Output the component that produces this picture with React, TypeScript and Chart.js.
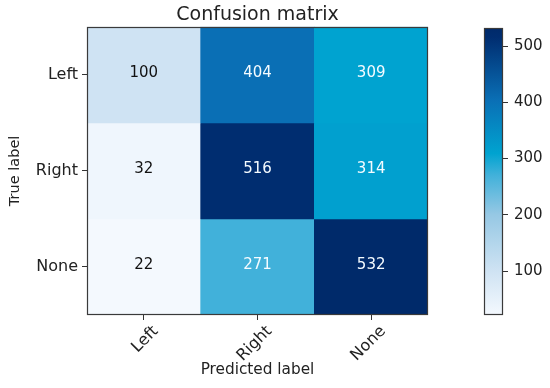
import React, { useEffect, useRef } from "react";
import { Chart, registerables } from "chart.js";

Chart.register(...registerables);

const predictedLabels = ["Left", "Right", "None"];
const trueLabels = ["Left", "Right", "None"];
const rowLeft = [100, 404, 309];
const rowRight = [32, 516, 314];
const rowNone = [22, 271, 532];
const matrixRows = [rowLeft, rowRight, rowNone];
const colorbarTicks = [100, 200, 300, 400, 500];

const FONT = "'DejaVu Sans', sans-serif";
const TEXT = "#222";

const allValues = matrixRows.flat();
const vMin = Math.min(...allValues);
const vMax = Math.max(...allValues);

// colormap (approximates the reference's Blues palette)
const cmapStops: [number, number[]][] = [
  [0, [244, 249, 254]],
  [0.153, [207, 227, 243]],
  [0.35, [150, 200, 228]],
  [0.488, [65, 177, 218]],
  [0.563, [0, 163, 208]],
  [0.749, [10, 111, 181]],
  [0.968, [0, 45, 112]],
  [1, [0, 42, 106]],
];

function cmapT(t: number): string {
  t = Math.max(0, Math.min(1, t));
  for (let i = 1; i < cmapStops.length; i++) {
    const [t1, c1] = cmapStops[i];
    const [t0, c0] = cmapStops[i - 1];
    if (t <= t1) {
      const f = (t - t0) / (t1 - t0 || 1);
      const c = c0.map((v, k) => Math.round(v + (c1[k] - v) * f));
      return `rgb(${c[0]},${c[1]},${c[2]})`;
    }
  }
  const c = cmapStops[cmapStops.length - 1][1];
  return `rgb(${c[0]},${c[1]},${c[2]})`;
}
const cmap = (v: number) => cmapT((v - vMin) / (vMax - vMin));

const framePlugin = {
  id: "frame",
  afterDraw(chart: any) {
    const { ctx, chartArea: a } = chart;
    ctx.save();
    ctx.strokeStyle = "#3a3a3a";
    ctx.lineWidth = 1.2;
    ctx.strokeRect(Math.round(a.left) + 0.5, Math.round(a.top) + 0.5, Math.round(a.right - a.left) - 1, Math.round(a.bottom - a.top) - 1);
    ctx.restore();
  },
};

const cellLabelPlugin = {
  id: "cellLabels",
  afterDatasetsDraw(chart: any) {
    const { ctx } = chart;
    const threshold = vMax / 2;
    ctx.save();
    ctx.font = `15px ${FONT}`;
    ctx.textAlign = "center";
    ctx.textBaseline = "middle";
    chart.data.datasets.forEach((ds: any, i: number) => {
      const meta = chart.getDatasetMeta(i);
      meta.data.forEach((el: any, j: number) => {
        const v = ds.values[j];
        const { x, y, base } = el.getProps(["x", "y", "base"], true);
        ctx.fillStyle = v > threshold ? "#f4fbff" : "#111";
        ctx.fillText(String(v), x, (y + base) / 2 - 2);
      });
    });
    ctx.restore();
  },
};

export default function App() {
  const mainRef = useRef<HTMLCanvasElement>(null);
  const barRef = useRef<HTMLCanvasElement>(null);

  useEffect(() => {
    const tickGrid = {
      display: true,
      drawOnChartArea: false,
      drawTicks: true,
      tickLength: 5,
      offset: false,
      color: "#333",
      lineWidth: 1,
    };

    const main = new Chart(mainRef.current!, {
      type: "bar",
      data: {
        labels: predictedLabels,
        datasets: matrixRows.map((row, r) => ({
          label: trueLabels[r],
          data: row.map(() => [r, r + 1]),
          values: row,
          backgroundColor: row.map((v) => cmap(v)),
          borderWidth: 0,
          barPercentage: 1,
          categoryPercentage: 1,
          grouped: false,
        })) as any,
      },
      options: {
        responsive: false,
        animation: false,
        layout: { padding: { left: 0, right: 122, top: 0, bottom: 0 } },
        plugins: {
          legend: { display: false },
          tooltip: { enabled: false },
          title: {
            display: true,
            text: "Confusion matrix",
            fullSize: false,
            color: TEXT,
            font: { family: FONT, size: 19, weight: "normal" },
            padding: { top: 4, bottom: 0 },
          },
        },
        scales: {
          x: {
            type: "category",
            offset: true,
            grid: tickGrid as any,
            border: { display: false },
            ticks: {
              color: TEXT,
              font: { family: FONT, size: 16 },
              minRotation: 45,
              maxRotation: 45,
              labelOffset: 12,
              padding: 2,
            },
            title: {
              display: true,
              text: "Predicted label",
              color: TEXT,
              font: { family: FONT, size: 15.3 },
              padding: { top: 0, bottom: 9 },
            },
            afterFit: (s: any) => {
              s.height = 73;
            },
          },
          y: {
            type: "linear",
            min: 0,
            max: trueLabels.length,
            reverse: true,
            grid: tickGrid as any,
            border: { display: false },
            afterBuildTicks: (s: any) => {
              s.ticks = trueLabels.map((_, i) => ({ value: i + 0.5 }));
            },
            ticks: {
              color: TEXT,
              font: { family: FONT, size: 16 },
              padding: 4,
              callback: (v: any) => trueLabels[Math.floor(Number(v))],
            },
            title: {
              display: true,
              text: "True label",
              color: TEXT,
              font: { family: FONT, size: 14.5 },
              padding: { top: 7, bottom: 0 },
            },
            afterFit: (s: any) => {
              s.width = 87;
            },
          },
        },
      } as any,
      plugins: [cellLabelPlugin, framePlugin],
    });

    const colorbar = new Chart(barRef.current!, {
      type: "bar",
      data: {
        labels: ["colorbar"],
        datasets: [
          {
            data: [[vMin, vMax]],
            borderWidth: 0,
            barPercentage: 1,
            categoryPercentage: 1,
            backgroundColor: (ctx: any) => {
              const area = ctx.chart.chartArea;
              if (!area) return cmap(vMin);
              const g = ctx.chart.ctx.createLinearGradient(0, area.bottom, 0, area.top);
              cmapStops.forEach(([t]) => g.addColorStop(t, cmapT(t)));
              return g;
            },
          },
        ] as any,
      },
      options: {
        responsive: false,
        animation: false,
        layout: { padding: { left: 14, right: 0, top: 28, bottom: 73 } },
        plugins: { legend: { display: false }, tooltip: { enabled: false } },
        scales: {
          x: { display: false, offset: true },
          y: {
            type: "linear",
            position: "right",
            min: vMin,
            max: vMax,
            grid: { ...tickGrid, offset: false } as any,
            border: { display: false },
            afterBuildTicks: (s: any) => {
              s.ticks = colorbarTicks.map((v) => ({ value: v }));
            },
            ticks: {
              color: TEXT,
              font: { family: FONT, size: 15 },
              padding: 6,
            },
            afterFit: (s: any) => {
              s.width = 47;
            },
          },
        },
      } as any,
      plugins: [framePlugin],
    });

    return () => {
      main.destroy();
      colorbar.destroy();
    };
  }, []);

  return (
    <div style={{ position: "fixed", left: 0, top: 0, width: 550, height: 388, background: "#fff" }}>
      <canvas ref={mainRef} width={550} height={388} style={{ position: "absolute", left: 0, top: 0 }} />
      <canvas ref={barRef} width={80} height={388} style={{ position: "absolute", left: 470, top: 0 }} />
    </div>
  );
}
